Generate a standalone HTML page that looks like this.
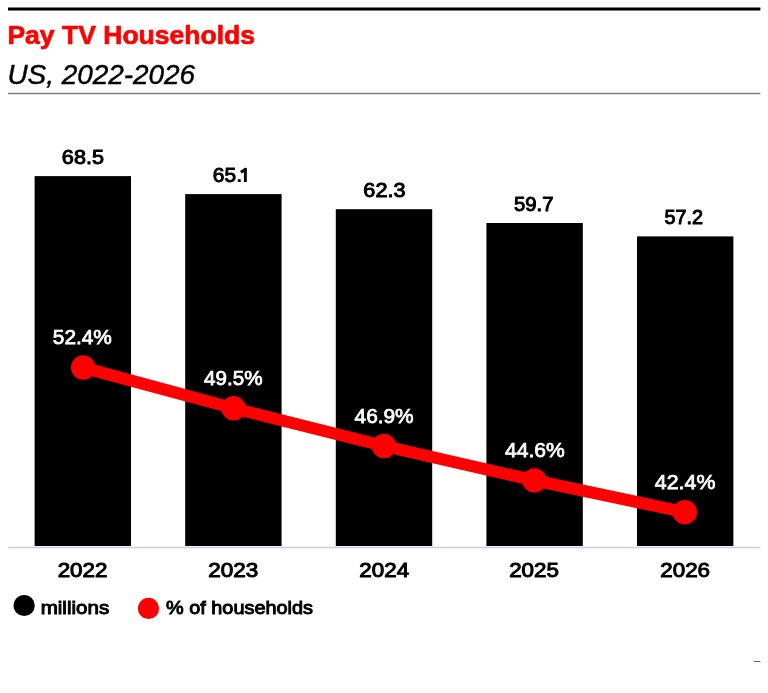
<!DOCTYPE html>
<html><head><meta charset="utf-8"><title>Pay TV Households</title>
<style>
html,body{margin:0;padding:0;background:#fff;width:768px;height:693px;overflow:hidden}
svg{position:absolute;left:0;top:0;display:block;will-change:transform}
text{font-family:"Liberation Sans",sans-serif;font-weight:700;fill:#000}
.t{fill:#ff0000;stroke:#ff0000;stroke-width:0.7px}
.s{font-style:italic;font-weight:400;stroke:#000;stroke-width:0.45px}
.p{fill:#fff;stroke:#fff;font-weight:400;stroke-width:0.75px}
.v,.y,.l{stroke:#000;font-weight:400;stroke-width:1px}
</style></head><body>
<svg width="768" height="693" viewBox="0 0 768 693">
<rect x="8" y="7.5" width="752.4" height="3" fill="#000"/>
<rect x="8" y="92" width="752.4" height="3" fill="#e2e2e2"/><rect x="8" y="93" width="752.4" height="1" fill="#7c7c7c"/>
<rect x="34.60" y="176.10" width="96.4" height="370.90"/>
<rect x="185.20" y="194.10" width="96.4" height="352.90"/>
<rect x="335.80" y="209.20" width="96.4" height="337.80"/>
<rect x="486.40" y="223.00" width="96.4" height="324.00"/>
<rect x="637.00" y="236.40" width="96.4" height="310.60"/>
<rect x="8" y="546" width="752.4" height="3" fill="#eef1f7"/><rect x="8" y="547" width="752.4" height="1" fill="#c5d0e5"/>
<polyline points="83.20,367.60 233.60,408.30 384.00,446.00 534.40,480.40 684.80,512.20" fill="none" stroke="#ff0000" stroke-width="12"/>
<circle cx="83.20" cy="367.60" r="12.25" fill="#ff0000"/>
<circle cx="233.60" cy="408.30" r="12.25" fill="#ff0000"/>
<circle cx="384.00" cy="446.00" r="12.25" fill="#ff0000"/>
<circle cx="534.40" cy="480.40" r="12.25" fill="#ff0000"/>
<circle cx="684.80" cy="512.20" r="12.25" fill="#ff0000"/>
<text class="t" x="7.40" y="43.80" font-size="26.50" textLength="247.68" lengthAdjust="spacingAndGlyphs">Pay TV Households</text>
<text class="s" x="7.40" y="84.30" font-size="27.90" textLength="187.62" lengthAdjust="spacingAndGlyphs">US, 2022-2026</text>
<text class="v" x="61.88" y="163.60" font-size="19.80" textLength="42.03" lengthAdjust="spacingAndGlyphs">68.5</text>
<text class="v" x="212.88" y="181.80" font-size="19.80" textLength="23.22" lengthAdjust="spacingAndGlyphs">65</text>
<text class="v" x="363.38" y="196.80" font-size="19.80" textLength="42.08" lengthAdjust="spacingAndGlyphs">62.3</text>
<text class="v" x="513.94" y="210.60" font-size="19.80" textLength="39.53" lengthAdjust="spacingAndGlyphs">59.7</text>
<text class="v" x="664.44" y="224.10" font-size="19.80" textLength="38.54" lengthAdjust="spacingAndGlyphs">57.2</text>
<text class="p" x="52.82" y="344.12" font-size="19.50" textLength="59.03" lengthAdjust="spacingAndGlyphs">52.4%</text>
<text class="p" x="204.06" y="384.73" font-size="19.50" textLength="58.41" lengthAdjust="spacingAndGlyphs">49.5%</text>
<text class="p" x="354.56" y="423.02" font-size="19.50" textLength="59.12" lengthAdjust="spacingAndGlyphs">46.9%</text>
<text class="p" x="505.06" y="456.73" font-size="19.50" textLength="59.67" lengthAdjust="spacingAndGlyphs">44.6%</text>
<text class="p" x="654.88" y="488.62" font-size="19.50" textLength="60.51" lengthAdjust="spacingAndGlyphs">42.4%</text>
<text class="y" x="57.70" y="576.60" font-size="19.70" textLength="49.72" lengthAdjust="spacingAndGlyphs">2022</text>
<text class="y" x="208.26" y="576.60" font-size="19.70" textLength="49.96" lengthAdjust="spacingAndGlyphs">2023</text>
<text class="y" x="359.38" y="576.60" font-size="19.70" textLength="49.69" lengthAdjust="spacingAndGlyphs">2024</text>
<text class="y" x="509.20" y="576.60" font-size="19.70" textLength="49.70" lengthAdjust="spacingAndGlyphs">2025</text>
<text class="y" x="660.32" y="576.60" font-size="19.70" textLength="49.66" lengthAdjust="spacingAndGlyphs">2026</text>
<text class="l" x="40.70" y="614.00" font-size="19.00" textLength="68.52" lengthAdjust="spacingAndGlyphs">millions</text>
<text class="l" x="166.00" y="614.00" font-size="19.00" textLength="146.96" lengthAdjust="spacingAndGlyphs">% of households</text>
<rect x="237.8" y="179.2" width="2.9" height="2.8"/>
<path d="M243.9 167.9H246.8V182H243.9Z"/><path d="M246.2 168.9L240.8 172.2" stroke="#000" stroke-width="2.9" stroke-linecap="butt"/>
<circle cx="24.2" cy="605.5" r="10.6" fill="#000"/>
<circle cx="148.5" cy="608.4" r="10.6" fill="#ff0000"/>
<rect x="754" y="661" width="6.4" height="1" fill="#666"/>
</svg>
</body></html>
